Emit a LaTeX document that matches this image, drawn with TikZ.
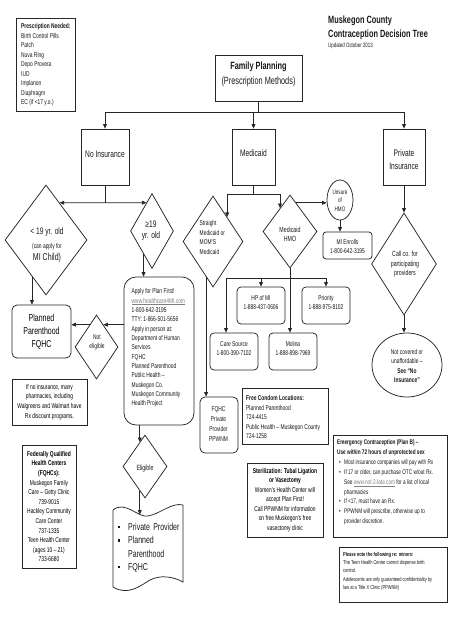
\documentclass[tikz,border=0pt]{standalone}
\usepackage{fontspec}
\setmainfont{Liberation Sans}[FakeStretch=0.7]
\usetikzlibrary{arrows.meta,shapes.geometric}
\newcommand\ecbul{\hspace*{2pt}\makebox[5pt][l]{•}}
\newcommand\docbul{\makebox[10.5pt][l]{\rule[2.2pt]{2.2pt}{2.6pt}}}
\begin{document}
\begin{tikzpicture}[x=1pt,y=-1pt,
  >={Triangle[length=4.5pt,width=3.8pt]},
  ln/.style={line width=0.75pt, draw=black!85},
  bx/.style={draw=black!85, line width=0.75pt, inner sep=0pt, rectangle},
  rbx/.style={bx, rounded corners=5pt},
  dm/.style={draw=black!85, line width=0.75pt, diamond, inner sep=0pt},
  el/.style={draw=black!85, line width=0.75pt, ellipse, inner sep=0pt},
  tx/.style={inner sep=0pt, align=center, text=black!90},
  txl/.style={inner sep=0pt, align=left, anchor=west, text=black!90}]
\fill[white] (0,0) rectangle (474,630);
\useasboundingbox (0,0) rectangle (474,630);

% prescription list
\node[bx, minimum width=59pt, minimum height=93pt] (presc) at (45.5,64.5) {};
\node[txl, font=\fontsize{7}{9.5}\selectfont] (presc-t) at (21,65) {\textbf{Prescription Needed:}\\Birth Control Pills\\Patch\\Nuva Ring\\Depo Provera\\IUD\\Implanon\\Diaphragm\\EC (if <17 y.o.)};

% title
\node[txl, font=\fontsize{10.5}{14}\selectfont\bfseries] (title) at (328,27.5) {Muskegon County\\Contraception Decision Tree};
\node[txl, font=\fontsize{6.3}{8}\selectfont] (upd) at (328,46) {Updated October 2013};

% family planning
\node[bx, minimum width=87pt, minimum height=46pt] (fp) at (258.5,78) {};
\node[tx, font=\fontsize{10.5}{15}\selectfont] (fp-t) at (258.5,74.5) {\textbf{Family Planning}\\(Prescription Methods)};

% level 1
\node[bx, minimum width=48pt, minimum height=56pt] (noins) at (105,157) {};
\node[tx, font=\fontsize{9.5}{13}\selectfont] (noins-t) at (105,154) {No Insurance};
\node[bx, minimum width=43pt, minimum height=56pt] (med) at (253.5,157) {};
\node[tx, font=\fontsize{9.5}{13}\selectfont] (med-t) at (253.5,153) {Medicaid};
\node[bx, minimum width=42pt, minimum height=56pt] (priv) at (404,157) {};
\node[tx, font=\fontsize{9.5}{13}\selectfont] (priv-t) at (404,159.5) {Private\\Insurance};

\coordinate (bus) at (258,112);
\draw[ln] (fp.south) -- (fp.south |- bus);
\draw[ln] (noins.north |- bus) -- (priv.north |- bus);
\draw[ln,->] (noins.north |- bus) -- (noins.north);
\draw[ln,->] (med.north |- bus) -- (med.north);
\draw[ln,->] (priv.north |- bus) -- (priv.north);

% no insurance branch
\node[dm, minimum width=82pt, minimum height=110pt] (lt19) at (46,240) {};
\node[tx] (lt19-t) at (47,245) {\fontsize{9.5}{11}\selectfont < 19 yr. old\\[2.5pt]\fontsize{7}{9.5}\selectfont (can apply for\\MI Child)};
\node[dm, minimum width=43pt, minimum height=75pt] (ge19) at (152,231) {};
\node[tx, font=\fontsize{9.5}{11}\selectfont] (ge19-t) at (151,230.5) {≥19\\yr. old};
\draw[ln] (noins.south) -- (noins.south |- lt19.70);
\draw[ln,<->] (lt19.70) -- (ge19.101);

\node[rbx, minimum width=59pt, minimum height=53pt, font=\fontsize{10}{13}\selectfont, align=center] (pp) at (41.5,331.5) {Planned\\Parenthood\\FQHC};
\draw[ln,->] (lt19.249) -- (lt19.249 |- pp.north);

\node[rbx, rounded corners=12pt, minimum width=70pt, minimum height=148pt] (apply) at (159,351) {};
\node[txl, font=\fontsize{7}{9.33}\selectfont] (apply-t) at (131.5,348) {Apply for Plan First!\\\textcolor{gray}{\underline{www.healthcare4MI.com}}\\1-800-642-3195\\TTY: 1-866-501-5656\\Apply in person at:\\Department of Human\\Services\\FQHC\\Planned Parenthood\\Public Health –\\Muskegon Co.\\Muskegon Community\\Health Project};
\draw[ln,->] (ge19.250) -- (ge19.250 |- apply.north);

\node[dm, minimum width=43pt, minimum height=64pt] (nelig) at (96.5,347) {};
\node[tx, font=\fontsize{7}{9}\selectfont] (nelig-t) at (97,342.8) {Not\\eligible};
\draw[ln,->] (nelig.73 -| apply.west) -- (nelig.73);
\draw[ln,->] (nelig.107) -- (nelig.107 -| pp.east);

\node[dm, minimum width=44pt, minimum height=63pt] (elig) at (145,466.5) {};
\node[tx, font=\fontsize{7.5}{9}\selectfont] (elig-t) at (145,469) {Eligible};
\draw[ln,->] (elig.102 |- apply.south) -- (elig.102);

% document shape
\draw[ln, fill=white] (113,510) .. controls (125,500) and (138,518) .. (148,516) .. controls (160,514) and (172,502) .. (183,505) -- (183,582) .. controls (172,576) and (160,575) .. (150,580) .. controls (140,586) and (128,596) .. (113,587) -- cycle;
\coordinate (doctop) at (140,514.5);
\draw[ln,->] (elig.258) -- (elig.258 |- doctop);
\node[txl, font=\fontsize{10}{13.3}\selectfont, text width=64pt] (doc) at (117.5,547.8) {\docbul Private Provider\\\docbul Planned\\\hspace*{10.5pt}Parenthood\\\docbul FQHC};

% left info boxes
\node[bx, minimum width=75pt, minimum height=46pt, font=\fontsize{7}{9.7}\selectfont, align=center] (pharm) at (49.5,402) {If no insurance, many\\pharmacies, including\\Walgreens and Walmart have\\Rx discount programs.};
\node[bx, minimum width=54pt, minimum height=123pt, font=\fontsize{7}{9.6}\selectfont, align=center] (fqinfo) at (49,506.5) {\textbf{Federally Qualified}\\\textbf{Health Centers}\\\textbf{(FQHCs):}\\Muskegon Family\\Care – Getty Clinic\\739-9015\\Hackley Community\\Care Center\\737-1335\\Teen Health Center\\(ages 10 – 21)\\733-6680};

% medicaid branch
\node[dm, minimum width=60pt, minimum height=91pt] (straight) at (213,241.5) {};
\node[txl, font=\fontsize{7}{9.5}\selectfont] (straight-t) at (199.5,237.3) {Straight\\Medicaid or\\MOM’S\\Medicaid};
\node[dm, minimum width=54pt, minimum height=73pt] (hmo) at (290,231.5) {};
\node[tx, font=\fontsize{7.5}{9}\selectfont] (hmo-t) at (290,234.3) {Medicaid\\HMO};
\coordinate (mbus) at (253.5,194);
\draw[ln] (med.south) -- (mbus);
\draw[ln] (straight.60 |- mbus) -- (hmo.113 |- mbus);
\draw[ln,->] (straight.60 |- mbus) -- (straight.60);
\draw[ln,->] (hmo.113 |- mbus) -- (hmo.113);

\node[rbx, minimum width=38pt, minimum height=56pt] (fq2) at (219,425) {};
\node[tx, font=\fontsize{7}{9.8}\selectfont] (fq2-t) at (218.5,424) {FQHC\\Private\\Provider\\PPWNM};
\draw[ln,->] (straight.259) -- (straight.259 |- fq2.north);

\node[el, minimum width=26pt, minimum height=40pt] (unsure) at (340,200) {};
\node[tx, font=\fontsize{6.5}{8.5}\selectfont] (unsure-t) at (340,200.5) {Unsure\\of\\HMO};
\draw[ln,->] (hmo.78) -- (hmo.78 -| unsure.west);
\node[rbx, rounded corners=3pt, minimum width=49pt, minimum height=27pt] (mien) at (347.5,245.5) {};
\node[tx, font=\fontsize{7}{9}\selectfont] (mien-t) at (347.5,246.5) {MI Enrolls\\1-800-642-3195};
\draw[ln,->] (unsure.south) -- (unsure.south |- mien.north);

\node[rbx, rounded corners=4pt, minimum width=48pt, minimum height=37pt] (hp) at (261,305.5) {};
\node[tx, font=\fontsize{7}{9}\selectfont] (hp-t) at (261,302.5) {HP of MI\\1-888-437-0606};
\node[rbx, rounded corners=4pt, minimum width=48pt, minimum height=37pt] (pri) at (326,305.5) {};
\node[tx, font=\fontsize{7}{9}\selectfont] (pri-t) at (326,302.5) {Priority\\1-888-975-8102};
\node[rbx, rounded corners=4pt, minimum width=48pt, minimum height=37pt] (cs) at (234,351.5) {};
\node[tx, font=\fontsize{7}{9}\selectfont] (cs-t) at (234,348.5) {Care Source\\1-800-390-7102};
\node[rbx, rounded corners=4pt, minimum width=48pt, minimum height=37pt] (mol) at (293,351.5) {};
\node[tx, font=\fontsize{7}{9}\selectfont] (mol-t) at (293,348.5) {Molina\\1-888-898-7969};
\coordinate (hbus) at (226,278);
\draw[ln,->] (hmo.south) -- (hmo.south |- mol.north);
\draw[ln] (hbus) -- (pri.north |- hbus);
\draw[ln,->] (hbus) -- (hbus |- cs.north);
\draw[ln,->] (hp.north |- hbus) -- (hp.north);
\draw[ln,->] (pri.north |- hbus) -- (pri.north);

% private branch
\node[dm, minimum width=65pt, minimum height=102pt] (callco) at (404,264) {};
\node[tx, font=\fontsize{7.5}{9.5}\selectfont] (callco-t) at (405,264.5) {Call co. for\\participating\\providers};
\draw[ln,->] (priv.south) -- (callco.north);
\node[el, minimum width=70pt, minimum height=64pt] (nc) at (407,365) {};
\node[tx, font=\fontsize{7}{9.5}\selectfont] (nc-t) at (407,366) {Not covered or\\unaffordable –\\\textbf{See “No}\\\textbf{Insurance”}};
\draw[ln,->] (callco.south) -- (callco.south |- nc.north);

% info boxes right
\node[bx, minimum width=86pt, minimum height=56pt] (cond) at (285,416) {};
\node[txl, font=\fontsize{7}{9.5}\selectfont] (cond-t) at (246,417) {\textbf{Free Condom Locations:}\\Planned Parenthood\\724-4415\\Public Health – Muskegon County\\724-1258};

\node[bx, minimum width=76pt, minimum height=74pt, font=\fontsize{7}{9.5}\selectfont, align=center] (ster) at (285,500) {\textbf{Sterilization: Tubal Ligation}\\\textbf{or Vasectomy}\\Women’s Health Center will\\accept Plan First!\\Call PPWNM for information\\on free Muskegon’s free\\vasectomy clinic};

\node[bx, minimum width=114pt, minimum height=102pt] (ec) at (390,486) {};
\node[txl, font=\fontsize{6.7}{9.85}\selectfont] (ec-t) at (337,482.5) {\textbf{Emergency Contraception (Plan B) –}\\\textbf{Use within 72 hours of unprotected sex}\\\ecbul Most insurance companies will pay with Rx\\\ecbul If 17 or older, can purchase OTC w/out Rx.\\\hspace*{7pt}See \textcolor{gray}{\underline{www.not-2-late.com}} for a list of local\\\hspace*{7pt}pharmacies\\\ecbul If <17, must have an Rx.\\\ecbul PPWNM will prescribe, otherwise up to\\\hspace*{7pt}provider discretion.};

\node[bx, minimum width=108pt, minimum height=55pt] (note) at (393,574.5) {};
\node[txl, font=\fontsize{5.7}{8.3}\selectfont] (note-t) at (343,571.5) {\textbf{Please note the following re: minors:}\\The Teen Health Center cannot dispense birth\\control.\\Adolescents are only guaranteed confidentiality by\\law at a Title X Clinic (PPWNM)};
\end{tikzpicture}
\end{document}
